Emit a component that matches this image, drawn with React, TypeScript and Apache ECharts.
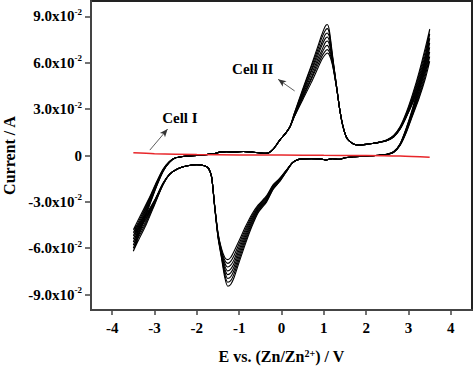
import React, { useEffect, useRef } from "react";
import * as echarts from "echarts";

// ---------- data (potential E / V, current I / A) ----------
// forward sweep, from left vertex (per cycle, outermost first)
const leftUpE = [-3.5, -3.3, -3.1, -2.95, -2.8, -2.65, -2.5];
const leftUpI = [
  [-0.062, -0.046, -0.031, -0.020, -0.0105, -0.0045, -0.0015],
  [-0.060, -0.0447, -0.0303, -0.0196, -0.0104, -0.0045, -0.0015],
  [-0.058, -0.0434, -0.0296, -0.0193, -0.0101, -0.0044, -0.0015],
  [-0.056, -0.0421, -0.0289, -0.0189, -0.0099, -0.0044, -0.0015],
  [-0.054, -0.0409, -0.0281, -0.0184, -0.0097, -0.0042, -0.0015],
  [-0.052, -0.0396, -0.0274, -0.018, -0.0094, -0.0041, -0.0015],
  [-0.050, -0.0383, -0.0267, -0.0175, -0.0092, -0.004, -0.0015],
  [-0.048, -0.037, -0.026, -0.017, -0.009, -0.004, -0.0015],
];
// forward sweep, flat part (shared)
const flatUpE = [-2.24, -2.0, -1.8, -1.6, -1.45, -1.3, -1.1, -0.9, -0.7, -0.5, -0.36, -0.2, -0.04, 0.1, 0.2];
const flatUpI = [-0.0003, 0.0, 0.0005, 0.0012, 0.0022, 0.0024, 0.0023, 0.0026, 0.0022, 0.0016, 0.0014, 0.004, 0.010, 0.0145, 0.0186];
// anodic peak (per cycle)
const anodicE = [0.3, 0.5, 0.7, 0.85, 0.95, 1.03, 1.08, 1.13, 1.2, 1.3, 1.38];
const anodicI = [
  [0.027, 0.043, 0.058, 0.070, 0.078, 0.0835, 0.0848, 0.081, 0.066, 0.045, 0.029],
  [0.027, 0.042, 0.057, 0.068, 0.076, 0.0808, 0.0821, 0.079, 0.065, 0.045, 0.029],
  [0.026, 0.041, 0.055, 0.066, 0.073, 0.0781, 0.0793, 0.077, 0.064, 0.045, 0.029],
  [0.026, 0.040, 0.054, 0.064, 0.071, 0.0755, 0.0767, 0.074, 0.063, 0.045, 0.029],
  [0.026, 0.039, 0.052, 0.062, 0.068, 0.0729, 0.0741, 0.072, 0.062, 0.044, 0.029],
  [0.025, 0.038, 0.050, 0.060, 0.066, 0.0702, 0.0713, 0.069, 0.061, 0.044, 0.029],
  [0.025, 0.037, 0.049, 0.058, 0.064, 0.0674, 0.0685, 0.067, 0.060, 0.044, 0.029],
  [0.025, 0.036, 0.047, 0.056, 0.062, 0.0652, 0.0663, 0.065, 0.059, 0.044, 0.029],
];
// valley after anodic peak (shared)
const midE = [1.45, 1.53, 1.6, 1.7, 1.8, 2.0, 2.15];
const midI = [0.019, 0.012, 0.0095, 0.0075, 0.0068, 0.0072, 0.0078];
// rise to right vertex (per cycle)
const rightUpE = [2.3, 2.48, 2.65, 2.8, 2.95, 3.1, 3.25, 3.4, 3.5];
const rightUpI = [
  [0.0085, 0.0100, 0.0130, 0.0186, 0.0280, 0.0400, 0.0540, 0.0700, 0.0816],
  [0.0085, 0.0099, 0.0128, 0.0182, 0.0272, 0.0388, 0.0523, 0.0678, 0.0787],
  [0.0085, 0.0098, 0.0126, 0.0179, 0.0266, 0.0376, 0.0507, 0.0655, 0.0757],
  [0.0085, 0.0097, 0.0125, 0.0176, 0.0261, 0.0366, 0.0492, 0.0633, 0.0728],
  [0.0085, 0.0096, 0.0123, 0.0174, 0.0257, 0.0358, 0.0478, 0.0612, 0.0699],
  [0.0085, 0.0096, 0.0122, 0.0172, 0.0254, 0.0350, 0.0465, 0.0592, 0.0670],
  [0.0085, 0.0095, 0.0121, 0.0171, 0.0251, 0.0344, 0.0452, 0.0571, 0.0640],
  [0.0085, 0.0095, 0.0120, 0.0170, 0.0250, 0.0340, 0.0440, 0.0550, 0.0610],
];
// reverse sweep from right vertex (per cycle)
const rightDownE = [3.5, 3.4, 3.25, 3.1, 2.95, 2.8, 2.65, 2.48];
const rightDownI = [
  [0.0816, 0.064, 0.046, 0.031, 0.018, 0.0075, 0.0025, 0.0008],
  [0.0787, 0.062, 0.045, 0.030, 0.0176, 0.0074, 0.0024, 0.0008],
  [0.0757, 0.060, 0.0435, 0.0295, 0.0172, 0.0072, 0.0024, 0.0007],
  [0.0728, 0.058, 0.042, 0.0288, 0.0167, 0.0071, 0.0023, 0.0007],
  [0.0699, 0.056, 0.041, 0.0281, 0.0163, 0.0069, 0.0022, 0.0007],
  [0.0670, 0.054, 0.0395, 0.0274, 0.0159, 0.0068, 0.0021, 0.0006],
  [0.0640, 0.052, 0.038, 0.0267, 0.0154, 0.0066, 0.0021, 0.0006],
  [0.0610, 0.050, 0.037, 0.026, 0.015, 0.0065, 0.0020, 0.0006],
];
// reverse sweep, flat part (shared)
const flatDownE = [2.3, 2.0, 1.7, 1.5, 1.35, 1.2, 1.05, 0.9, 0.7, 0.5, 0.35];
const flatDownI = [0.0002, -0.0003, -0.0008, -0.0015, -0.0025, -0.002, -0.0028, -0.0022, -0.002, -0.0022, -0.003];
// cathodic peak (per cycle)
const cathE = [0.25, 0.1, -0.05, -0.2, -0.35, -0.55, -0.7, -0.85, -1.0, -1.12, -1.2, -1.27, -1.34, -1.42, -1.5, -1.58];
const cathI = [
  [-0.005, -0.011, -0.017, -0.022, -0.030, -0.037, -0.046, -0.057, -0.069, -0.079, -0.0835, -0.0846, -0.079, -0.066, -0.053, -0.033],
  [-0.005, -0.011, -0.017, -0.0216, -0.0294, -0.0363, -0.0449, -0.0554, -0.067, -0.0766, -0.081, -0.082, -0.0771, -0.0651, -0.0526, -0.0329],
  [-0.005, -0.0108, -0.0164, -0.0211, -0.0289, -0.0356, -0.0437, -0.0539, -0.065, -0.0743, -0.0785, -0.0796, -0.0752, -0.0643, -0.0522, -0.0327],
  [-0.005, -0.0106, -0.0161, -0.0207, -0.0283, -0.0349, -0.0426, -0.0523, -0.063, -0.072, -0.076, -0.0771, -0.0733, -0.0634, -0.0517, -0.0326],
  [-0.005, -0.0104, -0.0159, -0.0203, -0.0277, -0.0341, -0.0414, -0.0507, -0.061, -0.0697, -0.0735, -0.0747, -0.0714, -0.0626, -0.0513, -0.0324],
  [-0.005, -0.0103, -0.0156, -0.0199, -0.0271, -0.0334, -0.0403, -0.0491, -0.059, -0.0674, -0.071, -0.0722, -0.0696, -0.0617, -0.0509, -0.0323],
  [-0.005, -0.0101, -0.0153, -0.0194, -0.0266, -0.0327, -0.0391, -0.0476, -0.057, -0.0647, -0.0685, -0.0698, -0.0678, -0.0609, -0.0504, -0.0321],
  [-0.005, -0.010, -0.015, -0.019, -0.026, -0.032, -0.038, -0.046, -0.055, -0.062, -0.066, -0.0674, -0.066, -0.060, -0.050, -0.032],
];
// after cathodic peak, flat part (shared)
const cathFlatE = [-1.65, -1.72, -1.8, -2.0, -2.25];
const cathFlatI = [-0.014, -0.0085, -0.0068, -0.006, -0.0068];
// down to left vertex (per cycle)
const leftDownE = [-2.45, -2.64, -2.8, -3.0, -3.2, -3.4, -3.5];
const leftDownI = [
  [-0.0085, -0.012, -0.019, -0.032, -0.045, -0.056, -0.062],
  [-0.0085, -0.012, -0.0189, -0.0314, -0.0437, -0.0541, -0.060],
  [-0.0085, -0.012, -0.0187, -0.0309, -0.0424, -0.0523, -0.058],
  [-0.0085, -0.012, -0.0186, -0.0304, -0.0411, -0.0504, -0.056],
  [-0.0085, -0.012, -0.0184, -0.030, -0.0406, -0.0486, -0.054],
  [-0.0085, -0.012, -0.0183, -0.0296, -0.0397, -0.0477, -0.052],
  [-0.0085, -0.012, -0.0181, -0.0293, -0.0389, -0.0463, -0.050],
  [-0.0085, -0.012, -0.018, -0.029, -0.038, -0.045, -0.048],
];
// Cell I (red)
const cellIE = [-3.5, -3.0, -2.0, -1.0, 0.0, 1.0, 2.0, 2.8, 3.5];
const cellII = [0.0018, 0.0012, 0.0006, 0.0004, 0.0003, 0.0001, 0.0, -0.0004, -0.0012];

// tick labels
const xTicks = [-4, -3, -2, -1, 0, 1, 2, 3, 4];
const yTicks = [-0.09, -0.06, -0.03, 0, 0.03, 0.06, 0.09];

const FONT = "'Liberation Serif', 'Times New Roman', serif";

function seg(E: number[], I: number[]) {
  return E.map((e, i) => [e, I[i]]);
}

export default function App() {
  const ref = useRef<HTMLDivElement>(null);
  useEffect(() => {
    if (!ref.current) return;
    const chart = echarts.init(ref.current, null, { renderer: "svg" });
    const cycleSeries = leftUpI.map((_, k) => ({
      type: "line",
      data: [
        ...seg(leftUpE, leftUpI[k]),
        ...seg(flatUpE, flatUpI),
        ...seg(anodicE, anodicI[k]),
        ...seg(midE, midI),
        ...seg(rightUpE, rightUpI[k]),
        ...seg(rightDownE.slice(1), rightDownI[k].slice(1)),
        ...seg(flatDownE, flatDownI),
        ...seg(cathE, cathI[k]),
        ...seg(cathFlatE, cathFlatI),
        ...seg(leftDownE, leftDownI[k]),
      ],
      showSymbol: false,
      smooth: 0.25,
      lineStyle: { color: "#000", width: 1.1 },
      silent: true,
      z: 2,
    }));
    const option: any = {
      animation: false,
      backgroundColor: "#fff",
      grid: {
        left: 91,
        right: 2,
        top: 1,
        bottom: 56,
        containLabel: false,
        outerBoundsMode: "none",
        show: true,
        borderColor: "#222",
        borderWidth: 2,
        backgroundColor: "transparent",
      },
      xAxis: {
        type: "value",
        min: -4.5,
        max: 4.5,
        splitLine: { show: false },
        axisLine: { onZero: false, lineStyle: { color: "#444", width: 2 } },
        axisTick: { customValues: xTicks, length: 5, lineStyle: { color: "#444", width: 1.5 } },
        axisLabel: {
          customValues: xTicks,
          margin: 10,
          fontFamily: FONT,
          fontWeight: "bold",
          fontSize: 15,
          color: "#000",
        },
        name: "E vs. (Zn/Zn{s|2+}) / V",
        nameLocation: "middle",
        nameGap: 38,
        nameTextStyle: {
          fontFamily: FONT,
          fontWeight: "bold",
          fontSize: 16,
          color: "#000",
          rich: {
            s: { fontFamily: FONT, fontWeight: "bold", fontSize: 10, verticalAlign: "top", lineHeight: 10, color: "#000" },
          },
        },
      },
      yAxis: {
        type: "value",
        min: -0.1,
        max: 0.1,
        splitLine: { show: false },
        axisLine: { onZero: false, lineStyle: { color: "#444", width: 2 } },
        axisTick: { customValues: yTicks, length: 6, lineStyle: { color: "#444", width: 1.5 } },
        axisLabel: {
          customValues: yTicks,
          margin: 9,
          formatter: (v: number) => {
            if (Math.abs(v) < 1e-9) return "{b|0}";
            const m = (Math.round(v * 1000) / 10).toFixed(1);
            return `{b|${m}x10}{s|-2}`;
          },
          rich: {
            b: { fontFamily: FONT, fontWeight: "bold", fontSize: 15, color: "#000", lineHeight: 18 },
            s: { fontFamily: FONT, fontWeight: "bold", fontSize: 9, color: "#000", verticalAlign: "top", lineHeight: 9 },
          },
        },
        name: "Current / A",
        nameLocation: "middle",
        nameGap: 74,
        nameTextStyle: { fontFamily: FONT, fontWeight: "bold", fontSize: 16, color: "#000" },
      },
      series: [
        ...cycleSeries,
        {
          type: "line",
          data: seg(cellIE, cellII),
          showSymbol: false,
          smooth: 0.3,
          lineStyle: { color: "#e8262a", width: 1.5 },
          silent: true,
          z: 3,
          markLine: {
            silent: true,
            symbol: ["none", "arrow"],
            symbolSize: [5, 8],
            label: { show: false },
            lineStyle: { color: "#333", width: 0.8, type: "solid" },
            data: [
              [{ coord: [0.31, 0.0418] }, { coord: [-0.08, 0.0493] }],
              [{ coord: [-3.11, 0.0035] }, { coord: [-2.69, 0.0171] }],
            ],
          },
        },
      ],
    };
    chart.setOption(option);
    const p2 = chart.convertToPixel({ gridIndex: 0 }, [-0.68, 0.0558]) as number[];
    const p1 = chart.convertToPixel({ gridIndex: 0 }, [-2.4, 0.0242]) as number[];
    chart.setOption({
      graphic: [
        {
          type: "text",
          x: p2[0],
          y: p2[1],
          style: { text: "Cell II", font: `bold 15px ${FONT}`, fill: "#000", align: "center", verticalAlign: "middle" },
        },
        {
          type: "text",
          x: p1[0],
          y: p1[1],
          style: { text: "Cell I", font: `bold 15px ${FONT}`, fill: "#000", align: "center", verticalAlign: "middle" },
        },
      ],
    });
    return () => chart.dispose();
  }, []);
  return (
    <div
      ref={ref}
      style={{ position: "fixed", left: 0, top: 0, width: 474, height: 366, background: "#fff" }}
    />
  );
}
